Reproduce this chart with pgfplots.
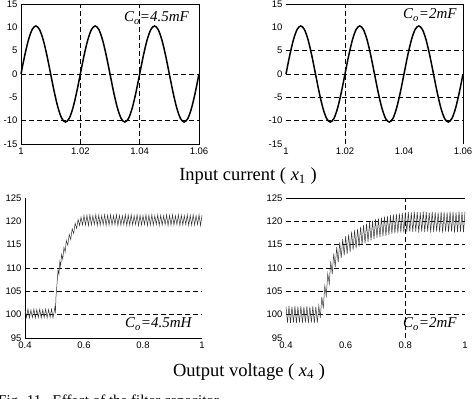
\documentclass[border=0pt]{standalone}
\usepackage{fontspec}
\setmainfont{Liberation Serif}
\setsansfont{Liberation Sans}
\usepackage{pgfplots}
\usepackage{pgfplotstable}
\pgfplotsset{compat=1.18}

\pgfplotstableread{
x y
1.00000 0
1.00125 3.94
1.00250 7.28
1.00375 9.52
1.00500 10.3
1.00625 9.52
1.00750 7.28
1.00875 3.94
1.01000 0
1.01125 -3.94
1.01250 -7.28
1.01375 -9.52
1.01500 -10.3
1.01625 -9.52
1.01750 -7.28
1.01875 -3.94
1.02000 0
1.02125 3.94
1.02250 7.28
1.02375 9.52
1.02500 10.3
1.02625 9.52
1.02750 7.28
1.02875 3.94
1.03000 0
1.03125 -3.94
1.03250 -7.28
1.03375 -9.52
1.03500 -10.3
1.03625 -9.52
1.03750 -7.28
1.03875 -3.94
1.04000 0
1.04125 3.94
1.04250 7.28
1.04375 9.52
1.04500 10.3
1.04625 9.52
1.04750 7.28
1.04875 3.94
1.05000 0
1.05125 -3.94
1.05250 -7.28
1.05375 -9.52
1.05500 -10.3
1.05625 -9.52
1.05750 -7.28
1.05875 -3.94
1.06000 0
}\currentdata

\pgfplotstableread{
x y
0.400 101.1
0.405 99.4
0.410 101.2
0.415 99.3
0.420 101.0
0.425 99.4
0.430 101.2
0.435 99.3
0.440 101.1
0.445 99.4
0.450 101.2
0.455 99.3
0.460 101.0
0.465 99.4
0.470 101.2
0.475 99.3
0.480 101.1
0.485 99.4
0.490 101.2
0.495 99.3
0.500 101.0
0.502 101.9
0.503 100.3
0.505 103.8
0.508 106.2
0.512 109.6
0.515 108.6
0.518 111.4
0.521 110.4
0.524 112.9
0.528 111.9
0.532 114.4
0.536 113.4
0.540 115.9
0.545 114.9
0.550 117.2
0.555 116.1
0.560 118.4
0.565 117.4
0.570 119.6
0.575 118.5
0.580 120.4
0.585 119.1
0.590 120.9
0.595 119.2
0.600 121.2
0.605 119.2
0.610 121.3
0.615 119.1
0.620 121.4
0.625 119.2
0.630 121.2
0.635 119.3
0.640 121.4
0.645 119.1
0.650 121.3
0.655 119.2
0.660 121.2
0.665 119.3
0.670 121.4
0.675 119.1
0.680 121.3
0.685 119.2
0.690 121.4
0.695 119.2
0.700 121.2
0.705 119.3
0.710 121.4
0.715 119.1
0.720 121.3
0.725 119.2
0.730 121.2
0.735 119.3
0.740 121.4
0.745 119.1
0.750 121.3
0.755 119.2
0.760 121.4
0.765 119.2
0.770 121.2
0.775 119.3
0.780 121.4
0.785 119.1
0.790 121.3
0.795 119.2
0.800 121.2
0.805 119.3
0.810 121.4
0.815 119.1
0.820 121.3
0.825 119.2
0.830 121.4
0.835 119.2
0.840 121.2
0.845 119.3
0.850 121.4
0.855 119.1
0.860 121.3
0.865 119.2
0.870 121.2
0.875 119.3
0.880 121.4
0.885 119.1
0.890 121.3
0.895 119.2
0.900 121.4
0.905 119.2
0.910 121.2
0.915 119.3
0.920 121.4
0.925 119.1
0.930 121.3
0.935 119.2
0.940 121.2
0.945 119.3
0.950 121.4
0.955 119.1
0.960 121.3
0.965 119.2
0.970 121.4
0.975 119.2
0.980 121.2
0.985 119.3
0.990 121.4
0.995 119.1
1.000 121.3
}\voltA

\pgfplotstableread{
x y
0.400 101.7
0.405 98.3
0.410 101.8
0.415 98.2
0.420 101.7
0.425 98.3
0.430 101.8
0.435 98.2
0.440 101.7
0.445 98.3
0.450 101.8
0.455 98.2
0.460 101.7
0.465 98.3
0.470 101.8
0.475 98.2
0.480 101.7
0.485 98.3
0.490 101.8
0.495 98.2
0.500 101.7
0.505 98.3
0.510 101.9
0.515 99.3
0.520 103.8
0.525 101.3
0.530 106.2
0.535 104.0
0.540 108.8
0.545 106.6
0.550 111.4
0.555 108.7
0.560 113.1
0.565 110.2
0.570 114.5
0.575 111.2
0.580 115.5
0.585 112.1
0.590 116.2
0.595 112.7
0.600 116.8
0.605 113.0
0.610 117.2
0.615 113.4
0.620 117.8
0.625 113.9
0.630 118.1
0.635 114.2
0.640 118.4
0.645 114.6
0.650 118.8
0.655 115.0
0.660 119.2
0.665 115.3
0.670 119.5
0.675 115.6
0.680 119.8
0.685 115.9
0.690 120.1
0.695 116.2
0.700 120.4
0.705 116.5
0.710 120.6
0.715 116.6
0.720 120.8
0.725 116.8
0.730 121.0
0.735 116.9
0.740 121.1
0.745 117.1
0.750 121.3
0.755 117.3
0.760 121.5
0.765 117.4
0.770 121.6
0.775 117.5
0.780 121.7
0.785 117.6
0.790 121.8
0.795 117.6
0.800 121.9
0.805 117.7
0.810 122.0
0.815 117.8
0.820 121.9
0.825 117.7
0.830 122.1
0.835 117.8
0.840 122.0
0.845 117.6
0.850 121.9
0.855 117.8
0.860 122.1
0.865 117.7
0.870 122.0
0.875 117.8
0.880 121.9
0.885 117.6
0.890 122.1
0.895 117.7
0.900 122.0
0.905 117.8
0.910 121.9
0.915 117.7
0.920 122.1
0.925 117.6
0.930 122.0
0.935 117.8
0.940 121.9
0.945 117.7
0.950 122.1
0.955 117.8
0.960 122.0
0.965 117.6
0.970 121.9
0.975 117.7
0.980 122.1
0.985 117.8
0.990 122.0
0.995 117.7
1.000 122.1
}\voltB

\tikzset{
  gl/.style={dash pattern=on 5pt off 3pt, line width=0.6pt, black},
  fr/.style={line width=0.8pt, black},
}
\pgfplotsset{
  every axis/.append style={
    scale only axis,
    anchor=south west,
    tick label style={font=\sffamily\fontsize{9.5}{9.5}\selectfont},
    /pgf/number format/assume math mode=true,
    major tick length=0pt,
    clip=false,
  },
  nobox/.style={separate axis lines, axis line style={draw=none}},
  sig/.style={black, line width=1.5pt, no markers},
  rip/.style={black!80, line width=0.5pt, no markers},
}

\begin{document}
\begin{tikzpicture}[x=1pt,y=1pt]
\path[use as bounding box] (0pt,0pt) rectangle (474pt,399pt);
\clip (0pt,0pt) rectangle (474pt,399pt);

% Top left
\begin{axis}[at={(21pt,255pt)}, width=178pt, height=140pt,
  xmin=1, xmax=1.06, ymin=-15, ymax=15,
  xtick={1,1.02,1.04,1.06}, xticklabels={1,1.02,1.04,1.06},
  ytick={-15,-10,-5,0,5,10,15},
  axis line style={line width=0.8pt}]
\draw[gl] (axis cs:1,0) -- (axis cs:1.06,0);
\draw[gl] (axis cs:1,-10) -- (axis cs:1.06,-10);
\draw[gl] (axis cs:1.02,-15) -- (axis cs:1.02,15);
\draw[gl] (axis cs:1.04,-15) -- (axis cs:1.04,15);
\addplot[sig, smooth] table[x=x,y=y] {\currentdata};
\end{axis}

% Top right
\begin{axis}[at={(286pt,255pt)}, width=177pt, height=140pt, nobox,
  xmin=1, xmax=1.06, ymin=-15, ymax=15,
  xtick={1,1.02,1.04,1.06}, xticklabels={1,1.02,1.04,1.06},
  ytick={-15,-10,-5,0,5,10,15}]
\draw[gl] (axis cs:1,5) -- (axis cs:1.06,5);
\draw[gl] (axis cs:1,0) -- (axis cs:1.06,0);
\draw[gl] (axis cs:1,-5) -- (axis cs:1.06,-5);
\draw[gl] (axis cs:1,-10) -- (axis cs:1.06,-10);
\draw[gl] (axis cs:1.02,-15) -- (axis cs:1.02,15);
\draw[fr] (rel axis cs:0,1) -- (rel axis cs:1,1) -- (rel axis cs:1,0);
\addplot[sig, smooth] table[x=x,y=y] {\currentdata};
\end{axis}

% Bottom left
\begin{axis}[at={(25pt,61pt)}, width=177pt, height=140pt, nobox,
  xmin=0.4, xmax=1, ymin=95, ymax=125,
  xtick={0.4,0.6,0.8,1}, xticklabels={0.4,0.6,0.8,1},
  ytick={95,100,105,110,115,120,125}]
\draw[gl] (axis cs:0.4,110) -- (axis cs:1,110);
\draw[gl] (axis cs:0.4,105) -- (axis cs:1,105);
\draw[gl] (axis cs:0.4,100) -- (axis cs:1,100);
\draw[fr] (rel axis cs:0,1) -- (rel axis cs:0,0) -- (rel axis cs:1,0);
\addplot[rip] table[x=x,y=y] {\voltA};
\end{axis}

% Bottom right
\begin{axis}[at={(286pt,61pt)}, width=179pt, height=140pt, nobox,
  xmin=0.4, xmax=1, ymin=95, ymax=125,
  xtick={0.4,0.6,0.8,1}, xticklabels={0.4,0.6,0.8,1},
  ytick={95,100,105,110,115,120,125}]
\draw[gl] (axis cs:0.4,120) -- (axis cs:1,120);
\draw[gl] (axis cs:0.4,115) -- (axis cs:1,115);
\draw[gl] (axis cs:0.4,110) -- (axis cs:1,110);
\draw[gl] (axis cs:0.4,105) -- (axis cs:1,105);
\draw[gl] (axis cs:0.4,100) -- (axis cs:1,100);
\draw[gl] (axis cs:0.8,95) -- (axis cs:0.8,125);
\draw[fr] (rel axis cs:0,1) -- (rel axis cs:1,1);
\addplot[rip] table[x=x,y=y] {\voltB};
\end{axis}

% Annotations
\node[anchor=base west, inner sep=0, font=\fontsize{15}{15}\selectfont\itshape] at (124pt,377pt) {C\textsubscript{o}=4.5mF};
\node[anchor=base west, inner sep=0, font=\fontsize{15}{15}\selectfont\itshape] at (403pt,380pt) {C\textsubscript{o}=2mF};
\node[anchor=base west, inner sep=0, font=\fontsize{15}{15}\selectfont\itshape] at (125pt,71pt) {C\textsubscript{o}=4.5mH};
\node[anchor=base west, inner sep=0, font=\fontsize{15}{15}\selectfont\itshape] at (403pt,71pt) {C\textsubscript{o}=2mF};

% Titles
\node[anchor=base, inner sep=0, font=\fontsize{18.5}{18.5}\selectfont] at (248pt,218pt) {Input current ( \textit{x}\textsubscript{1} )};
\node[anchor=base, inner sep=0, font=\fontsize{18.5}{18.5}\selectfont] at (249pt,23pt) {Output voltage ( \textit{x}\textsubscript{4} )};

% Caption (cut by the picture edge)
\node[anchor=base west, inner sep=0, font=\fontsize{15}{15}\selectfont] at (-2pt,-6pt) {Fig. 11.\enspace Effect of the filter capacitor};
\end{tikzpicture}
\end{document}
